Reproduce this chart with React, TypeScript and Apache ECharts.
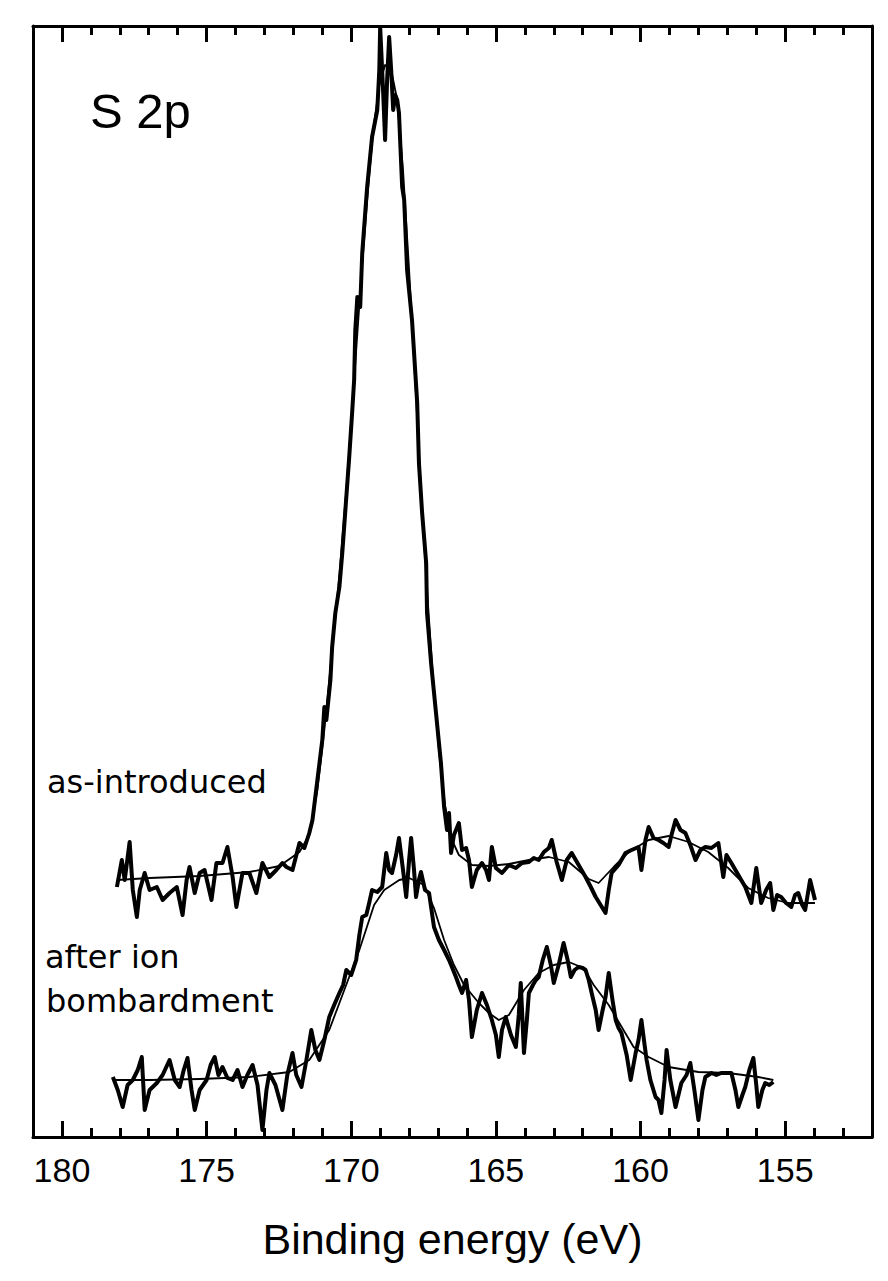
import React, { useEffect, useRef } from "react";
import * as echarts from "echarts";

// ---- Data (binding energy in eV, intensity in a.u.) ----
const asIntroducedE = [
  178.10, 177.93, 177.83, 177.66, 177.55, 177.41, 177.31, 177.14, 176.97, 176.72, 176.52, 176.28, 176.03,
  175.83, 175.69, 175.59, 175.41, 175.24, 175.07, 174.83, 174.66, 174.45, 174.28, 174.10, 173.97, 173.76,
  173.52, 173.28, 173.07, 172.83, 172.59, 172.38, 172.24, 172.03, 171.79, 171.62, 171.45, 171.34, 171.17,
  171.00, 170.93, 170.86, 170.72, 170.66, 170.55, 170.41, 170.31, 170.21, 170.07, 169.97, 169.90, 169.86,
  169.79, 169.69, 169.62, 169.45, 169.28, 169.10, 169.03, 169.00, 168.90, 168.83, 168.76, 168.69, 168.62,
  168.55, 168.48, 168.41, 168.35, 168.24, 168.17, 168.07, 167.90, 167.72, 167.66, 167.55, 167.41, 167.38,
  167.24, 167.07, 166.90, 166.79, 166.69, 166.62, 166.55, 166.45, 166.28, 166.17, 166.03, 165.93, 165.83,
  165.66, 165.48, 165.34, 165.24, 165.14, 165.00, 164.79, 164.55, 164.31, 164.10, 163.86, 163.69, 163.52,
  163.34, 163.17, 163.07, 162.90, 162.72, 162.55, 162.38, 162.14, 161.90, 161.72, 161.55, 161.38, 161.21,
  161.10, 161.00, 160.76, 160.52, 160.31, 160.07, 159.97, 159.83, 159.72, 159.55, 159.38, 159.21, 159.03,
  158.93, 158.79, 158.62, 158.45, 158.28, 158.10, 157.93, 157.76, 157.55, 157.31, 157.14, 157.03, 156.86,
  156.62, 156.38, 156.17, 156.00, 155.83, 155.66, 155.52, 155.41, 155.28, 155.14, 154.97, 154.79, 154.66,
  154.55, 154.41, 154.31, 154.14, 153.97,
];
const asIntroducedCounts = [
  250, 277, 257, 295, 247, 220, 247, 264, 247, 250, 237, 244, 250,
  222, 257, 270, 244, 264, 267, 237, 274, 274, 290, 260, 230, 264,
  264, 244, 274, 260, 267, 274, 270, 267, 294, 289, 304, 317, 357,
  397, 430, 417, 457, 490, 524, 550, 584, 624, 680, 724, 757, 807,
  840, 830, 884, 950, 1000, 1027, 1067, 1110, 1047, 997, 1057, 1100, 1067,
  1027, 1042, 1037, 1024, 950, 937, 867, 817, 734, 674, 624, 574, 524,
  474, 424, 374, 330, 307, 324, 284, 302, 314, 287, 289, 277, 250,
  267, 274, 267, 257, 290, 269, 264, 272, 269, 274, 275, 279, 277,
  285, 289, 297, 275, 257, 277, 284, 272, 260, 250, 240, 232, 224,
  247, 264, 272, 284, 287, 290, 267, 297, 310, 299, 297, 294, 290,
  302, 317, 307, 304, 292, 277, 287, 290, 289, 294, 260, 282, 274,
  262, 250, 234, 269, 234, 247, 254, 227, 242, 240, 234, 230, 242,
  244, 232, 227, 257, 237,
];
const asIntroducedFitE = [
  178.10, 176.97, 175.24, 173.52, 172.48, 171.79, 171.45, 171.17, 170.93, 170.66, 170.41, 170.17, 169.90,
  169.66, 169.45, 169.24, 169.03, 168.83, 168.62, 168.41, 168.21, 168.00, 167.79, 167.59, 167.38, 167.17,
  166.97, 166.76, 166.55, 166.28, 165.83, 165.24, 164.55, 163.86, 163.17, 162.48, 161.79, 161.45, 160.93,
  160.41, 159.72, 159.03, 158.34, 157.66, 156.97, 156.28, 155.59, 154.90, 153.97,
];
const asIntroducedFit = [
  257, 259, 261, 265, 271, 285, 302, 347, 407, 487, 562, 647, 757,
  857, 937, 1007, 1052, 1072, 1067, 1037, 967, 867, 757, 647, 547, 457,
  387, 332, 299, 282, 272, 271, 273, 277, 280, 275, 258, 254, 270,
  285, 297, 301, 295, 285, 269, 249, 239, 234, 234,
];

const afterIonE = [
  178.24, 178.07, 177.90, 177.73, 177.55, 177.38, 177.24, 177.14, 176.97, 176.72, 176.52, 176.28, 176.10,
  175.93, 175.79, 175.66, 175.52, 175.41, 175.24, 175.00, 174.86, 174.72, 174.59, 174.45, 174.28, 174.10,
  173.93, 173.76, 173.59, 173.41, 173.24, 173.07, 172.93, 172.83, 172.62, 172.38, 172.21, 172.03, 171.90,
  171.72, 171.55, 171.38, 171.24, 171.10, 170.93, 170.76, 170.59, 170.41, 170.28, 170.17, 170.00, 169.83,
  169.72, 169.62, 169.48, 169.38, 169.28, 169.10, 168.93, 168.79, 168.69, 168.59, 168.45, 168.35, 168.21,
  168.10, 168.00, 167.93, 167.83, 167.76, 167.66, 167.59, 167.45, 167.31, 167.14, 166.97, 166.79, 166.62,
  166.52, 166.38, 166.28, 166.17, 166.03, 165.93, 165.83, 165.66, 165.48, 165.31, 165.14, 165.00, 164.90,
  164.79, 164.66, 164.48, 164.31, 164.21, 164.14, 164.03, 163.93, 163.86, 163.72, 163.62, 163.52, 163.38,
  163.24, 163.10, 163.00, 162.83, 162.66, 162.52, 162.41, 162.28, 162.14, 162.00, 161.90, 161.79, 161.69,
  161.55, 161.45, 161.31, 161.21, 161.10, 160.97, 160.86, 160.76, 160.66, 160.48, 160.34, 160.17, 160.07,
  159.97, 159.86, 159.79, 159.66, 159.48, 159.38, 159.28, 159.17, 159.10, 158.97, 158.79, 158.69, 158.59,
  158.41, 158.28, 158.14, 158.00, 157.86, 157.76, 157.55, 157.38, 157.21, 157.03, 156.86, 156.72, 156.62,
  156.48, 156.38, 156.24, 156.10, 156.00, 155.93, 155.79, 155.69, 155.55, 155.41,
];
const afterIonCounts = [
  60, 47, 30, 52, 57, 67, 80, 27, 47, 54, 62, 77, 57,
  50, 67, 79, 47, 27, 47, 57, 72, 80, 62, 70, 59, 57,
  67, 50, 62, 72, 52, 7, 47, 64, 52, 27, 62, 84, 62,
  50, 77, 107, 87, 77, 97, 120, 132, 144, 152, 167, 162, 177,
  202, 220, 222, 234, 247, 245, 250, 284, 267, 264, 282, 299, 267,
  240, 277, 299, 267, 240, 257, 265, 247, 244, 210, 197, 187, 177,
  170, 160, 152, 144, 157, 137, 100, 127, 144, 132, 117, 102, 80,
  107, 120, 102, 90, 122, 154, 84, 117, 144, 152, 157, 160, 177,
  190, 172, 154, 172, 194, 177, 160, 167, 170, 169, 167, 157, 144,
  127, 107, 127, 140, 164, 137, 117, 109, 104, 82, 57, 84, 97,
  117, 92, 77, 57, 40, 37, 24, 57, 87, 57, 30, 42, 54,
  62, 74, 47, 17, 47, 60, 64, 62, 64, 64, 64, 47, 30,
  42, 50, 67, 79, 52, 30, 47, 54, 52, 55,
];
const afterIonFitE = [
  178.24, 176.97, 175.24, 173.52, 172.14, 171.45, 170.76, 170.24, 169.72, 169.21, 168.86, 168.34, 168.00,
  167.48, 167.14, 166.79, 166.45, 166.10, 165.59, 165.24, 164.90, 164.55, 164.03, 163.52, 163.00, 162.48,
  161.97, 161.62, 161.10, 160.59, 160.24, 159.72, 159.03, 158.00, 156.97, 155.93, 155.41,
];
const afterIonFit = [
  57, 57, 58, 60, 65, 77, 107, 147, 187, 232, 247, 257, 259,
  252, 229, 197, 172, 152, 134, 124, 117, 122, 147, 164, 172, 175,
  169, 152, 132, 107, 90, 80, 70, 65, 64, 60, 57,
];

const majorTicks = [155, 160, 165, 170, 175, 180];
const minorTicks = [
  152, 153, 154, 156, 157, 158, 159, 161, 162, 163, 164, 166, 167, 168, 169,
  171, 172, 173, 174, 176, 177, 178, 179, 181,
];
const xTitle = "Binding energy (eV)";
const panelTitle = "S 2p";
const labelUpper = "as-introduced";
const labelLower1 = "after ion";
const labelLower2 = "bombardment";

const zip = (xs: number[], ys: number[]) => xs.map((x, i) => [x, ys[i]]);

export default function App() {
  const ref = useRef<HTMLDivElement>(null);
  useEffect(() => {
    if (!ref.current) return;
    const chart = echarts.init(ref.current, null, { renderer: "svg" });
    const black = "#000";
    const baseX = {
      type: "value" as const,
      min: 152,
      max: 181,
      inverse: true,
      splitLine: { show: false },
    };
    const lineSeries = (name: string, data: number[][], width: number, z: number) => ({
      name,
      type: "line",
      data,
      xAxisIndex: 0,
      yAxisIndex: 0,
      symbol: "none",
      smooth: false,
      z,
      lineStyle: { color: black, width, join: "round" },
      itemStyle: { color: black },
      emphasis: { disabled: true },
    });
    const label = (text: string, x: number, y: number, size: number, family: string) => ({
      type: "text",
      x,
      y,
      style: {
        text,
        fontSize: size,
        fontFamily: family,
        fill: black,
        textAlign: "left",
        textVerticalAlign: "middle",
        align: "left",
        verticalAlign: "middle",
      },
    });
    chart.setOption({
      animation: false,
      backgroundColor: "#fff",
      grid: { left: 33, right: 16, top: 26, bottom: 144, containLabel: false },
      xAxis: [
        {
          ...baseX,
          position: "bottom",
          axisLine: { show: true, lineStyle: { color: black, width: 3 } },
          axisTick: {
            show: true,
            inside: true,
            length: 16,
            customValues: majorTicks,
            lineStyle: { color: black, width: 3 },
          },
          axisLabel: {
            show: true,
            customValues: majorTicks,
            color: black,
            fontSize: 34,
            fontFamily: "Liberation Sans, Arial, sans-serif",
            margin: 16,
          },
          name: xTitle,
          nameLocation: "middle",
          nameGap: 80,
          nameTextStyle: {
            color: black,
            fontSize: 43,
            fontFamily: "Liberation Sans, Arial, sans-serif",
          },
        },
        {
          ...baseX,
          position: "bottom",
          axisLine: { show: false },
          axisTick: {
            show: true,
            inside: true,
            length: 9,
            customValues: minorTicks,
            lineStyle: { color: black, width: 3 },
          },
          axisLabel: { show: false },
        },
        {
          ...baseX,
          position: "top",
          axisLine: { show: true, lineStyle: { color: black, width: 3 } },
          axisTick: {
            show: true,
            inside: true,
            length: 16,
            customValues: majorTicks,
            lineStyle: { color: black, width: 3 },
          },
          axisLabel: { show: false },
        },
        {
          ...baseX,
          position: "top",
          axisLine: { show: false },
          axisTick: {
            show: true,
            inside: true,
            length: 9,
            customValues: minorTicks,
            lineStyle: { color: black, width: 3 },
          },
          axisLabel: { show: false },
        },
      ],
      yAxis: [
        {
          type: "value",
          min: 0,
          max: 1111,
          position: "left",
          axisLine: { show: true, lineStyle: { color: black, width: 3 } },
          axisTick: { show: false },
          axisLabel: { show: false },
          splitLine: { show: false },
        },
        {
          type: "value",
          min: 0,
          max: 1111,
          position: "right",
          axisLine: { show: true, lineStyle: { color: black, width: 3 } },
          axisTick: { show: false },
          axisLabel: { show: false },
          splitLine: { show: false },
        },
      ],
      series: [
        lineSeries("as-introduced", zip(asIntroducedE, asIntroducedCounts), 4, 2),
        lineSeries("as-introduced fit", zip(asIntroducedFitE, asIntroducedFit), 1.8, 3),
        lineSeries("after ion bombardment", zip(afterIonE, afterIonCounts), 4, 2),
        lineSeries("after ion bombardment fit", zip(afterIonFitE, afterIonFit), 1.8, 3),
      ],
      graphic: [
        label(panelTitle, 90, 111, 49, "Liberation Sans, Arial, sans-serif"),
        label(labelUpper, 47, 782, 32, "DejaVu Sans, sans-serif"),
        label(labelLower1, 45, 957, 32, "DejaVu Sans, sans-serif"),
        label(labelLower2, 46, 1001, 32, "DejaVu Sans, sans-serif"),
      ],
    });
    return () => chart.dispose();
  }, []);
  return (
    <div
      ref={ref}
      style={{ position: "absolute", left: 0, top: 0, width: 888, height: 1281, background: "#fff" }}
    />
  );
}
